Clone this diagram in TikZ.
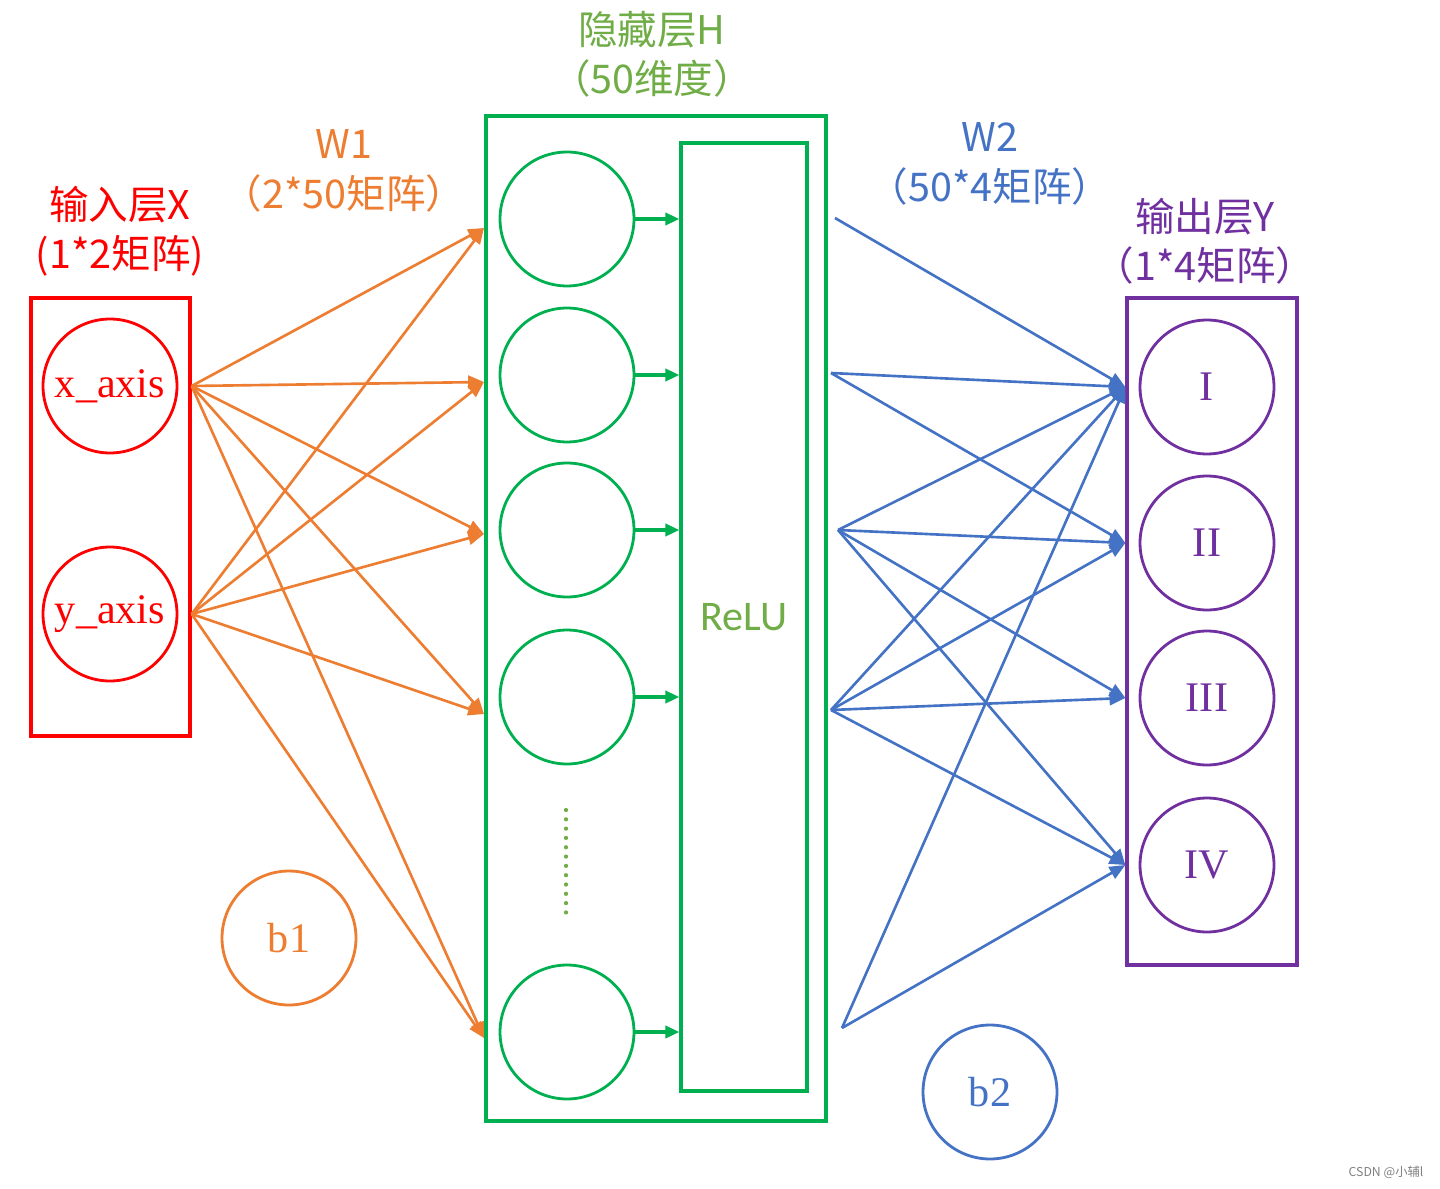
\documentclass[tikz,border=0pt]{standalone}
\usepackage{fontspec}
\setmainfont{Liberation Serif}
\newfontfamily\cjkfont{Noto Sans CJK SC}
\newfontfamily\relufont{Carlito}
\usetikzlibrary{arrows.meta,calc}

\definecolor{inred}{RGB}{255,0,0}
\definecolor{worange}{RGB}{237,125,49}
\definecolor{hgreen}{RGB}{0,176,80}
\definecolor{lgreen}{RGB}{112,173,71}
\definecolor{wblue}{RGB}{68,114,196}
\definecolor{opurple}{RGB}{112,48,160}

\begin{document}
\begin{tikzpicture}[x=0.02cm,y=-0.02cm,
    neuron/.style={circle,draw,line width=1.6pt,minimum size=2.68cm,inner sep=0pt,
      font=\fontsize{24}{28}\selectfont},
    layerbox/.style={draw,line width=1.9pt,inner sep=0pt},
    titletext/.style={align=center,font=\cjkfont\fontsize{22.5}{28}\selectfont},
    wone/.style={worange,line width=1.5pt,-{Triangle[length=9pt,width=7.5pt]}},
    wtwo/.style={wblue,line width=1.5pt,-{Triangle[length=9pt,width=7.5pt]}},
    relu arrow/.style={hgreen,line width=1.8pt,-{Triangle[length=8pt,width=7pt]}}]
  \useasboundingbox (0,0) rectangle (1440,1189);

  %% input layer
  \node[layerbox,inred,minimum width=3.18cm,minimum height=8.76cm] (inbox) at (110.5,517) {};
  \node[neuron,inred] (xa) at (110,386) {x\_axis};
  \node[neuron,inred] (ya) at (110,614) {y\_axis};
  \node[titletext,inred] (inlab) at (120,231) {输入层X\\(1*2矩阵)};

  %% hidden layer and relu
  \node[layerbox,hgreen,minimum width=6.8cm,minimum height=20.1cm] (hbox) at (656,618.5) {};
  \node[layerbox,hgreen,minimum width=2.52cm,minimum height=18.96cm,
        font=\relufont\fontsize{24}{28}\selectfont,text=lgreen] (relu) at (744,617) {ReLU};
  \foreach \k/\y in {1/219,2/375,3/530,4/697,5/1032}
    \node[neuron,hgreen] (h\k) at (567,\y) {};
  \draw[lgreen,line width=2.4pt,line cap=round,dash pattern=on 0pt off 5.3pt] (566,810) -- (566,913);
  \node[titletext,lgreen] (hlab) at (652,54) {隐藏层H\\（50维度）};

  %% output layer
  \node[layerbox,opurple,minimum width=3.4cm,minimum height=13.34cm] (obox) at (1212,631.5) {};
  \foreach \k/\y/\t in {1/387/I,2/543/II,3/698/III,4/865/IV}
    \node[neuron,opurple] (o\k) at (1207,\y) {\t};
  \node[titletext,opurple] (outlab) at (1205,241) {输出层Y\\（1*4矩阵）};

  %% biases
  \node[neuron,worange] (b1) at (289,938) {b1};
  \node[neuron,wblue] (b2) at (990,1092) {b2};

  %% weight labels
  \node[titletext,worange] (w1lab) at (344,171) {W1\\（2*50矩阵）};
  \node[titletext,wblue] (w2lab) at (990,164) {W2\\（50*4矩阵）};

  %% hidden units into relu
  \foreach \k in {1,...,5}
    \draw[relu arrow] (h\k.east) -- (h\k.east -| relu.west);

  %% W1 (every input to every hidden unit)
  \foreach \k/\y in {1/228,2/382,3/534,4/714,5/1038}
    \coordinate (t\k) at (484,\y);
  \foreach \k in {1,...,5} {
    \draw[wone] (xa.east -| inbox.east) -- (t\k);
    \draw[wone] (ya.east -| inbox.east) -- (t\k);
  }

  %% W2 (trial and error)
  \foreach \k/\x/\y in {1/835/218,2/831/373,3/838/530,4/831/710,5/842/1028}
    \coordinate (s\k) at (\x,\y);
  \foreach \k in {1,...,4}
    \coordinate (u\k) at (o\k.west -| obox.west);
  \foreach \a/\b in {1/1,2/1,2/2,3/1,3/2,3/3,3/4,4/1,4/2,4/3,4/4,5/1,5/4}
    \draw[wtwo] (s\a) -- (u\b);

  %% watermark
  \node[text=gray,font=\cjkfont\fontsize{7}{8}\selectfont] (mark) at (1386,1172) {CSDN @小辅l};
\end{tikzpicture}
\end{document}
